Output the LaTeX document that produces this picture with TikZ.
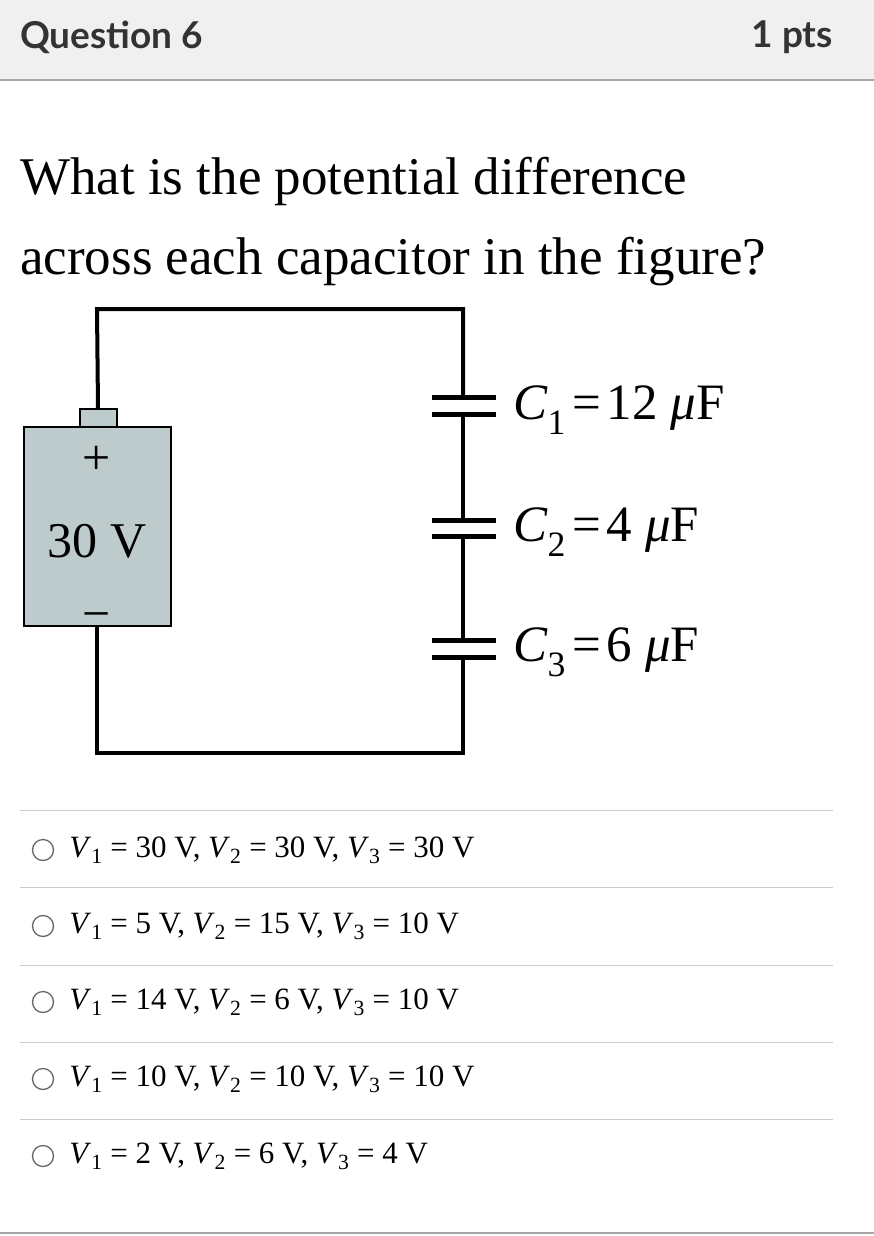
\documentclass[tikz,border=0pt]{standalone}
\usepackage{fontspec}
\setmainfont{Liberation Serif}
\newfontfamily\headfont{Lato}
\usetikzlibrary{positioning}
\definecolor{battfill}{RGB}{190,203,204}

\newcommand{\capsym}[2]{%
  \draw[plate] (432,#1) -- (496,#1);
  \draw[plate] (432,#2) -- (496,#2);}
\newcommand{\answer}[1]{\fontsize{31}{34}\selectfont #1}
\newcommand{\wideeq}{\hspace{0.12em}=\hspace{0.12em}}

\tikzset{
  wire/.style={line width=4pt},
  plate/.style={line width=5pt},
  sep/.style={draw=black!20, line width=1pt},
  choice/.style={circle, draw=black!60, line width=1.3pt, minimum size=21pt, inner sep=0pt},
  optlabel/.style={anchor=west, inner sep=0pt},
  caplabel/.style={anchor=west, inner sep=0pt, font=\fontsize{51}{54}\selectfont}
}

\begin{document}
\begin{tikzpicture}[x=1pt,y=-1pt]
  \useasboundingbox (0,0) rectangle (874,1236);

  % header
  \fill[black!6] (0,0) rectangle (874,80);
  \draw[black!35, line width=1.2pt] (0,80) -- (874,80);
  \node[anchor=west, inner sep=0pt, font=\headfont\bfseries\fontsize{37}{40}\selectfont, text=black!80] (qhead) at (20,37) {Question 6};
  \node[anchor=east, inner sep=0pt, font=\headfont\bfseries\fontsize{37}{40}\selectfont, text=black!80] (pts) at (833,37) {1 pts};

  % question
  \node[anchor=west, inner sep=0pt, font=\fontsize{53}{58}\selectfont] (q1) at (20,181) {What is the potential difference};
  \node[anchor=west, inner sep=0pt, font=\fontsize{53}{58}\selectfont] (q2) at (20,262) {across each capacitor in the figure?};

  % circuit
  \coordinate (tl) at (97,309);
  \coordinate (tr) at (463,309);
  \coordinate (bl) at (97,753);
  \coordinate (br) at (463,753);
  \node[draw, line width=2pt, fill=battfill, minimum width=37pt, minimum height=18pt, inner sep=0pt] (term) at (98,418) {};
  \node[draw, line width=2pt, fill=battfill, minimum width=147pt, minimum height=199pt, inner sep=0pt] (batt) at (97,526.5) {};
  \node[font=\fontsize{50}{54}\selectfont] (plus) at (97,460) {+};
  \node[font=\fontsize{50}{54}\selectfont] (volt) at (97,541) {30 V};
  \node[font=\fontsize{50}{54}\selectfont] (minus) at (97,622) {\textminus};

  \draw[wire] (term.north) -- (tl) -- (tr) -- (463,397);
  \draw[wire] (463,414) -- (463,520);
  \draw[wire] (463,536) -- (463,640);
  \draw[wire] (463,657) -- (br) -- (bl) -- (batt.south);
  \capsym{397}{414}
  \capsym{520}{536}
  \capsym{640}{657}

  \node[caplabel] (c1) at (513,410) {\textit{C}\textsubscript{1}\wideeq12 \textit{μ}F};
  \node[caplabel] (c2) at (513,532) {\textit{C}\textsubscript{2}\wideeq4 \textit{μ}F};
  \node[caplabel] (c3) at (513,652) {\textit{C}\textsubscript{3}\wideeq6 \textit{μ}F};

  % answer choices
  \foreach \y in {810,887,965,1042,1119}
    \draw[sep] (20,\y) -- (833,\y);
  \draw[black!35, line width=1.2pt] (0,1233) -- (874,1233);

  \node[choice] (o1) at (43,850) {};
  \node[choice] (o2) at (43,926) {};
  \node[choice] (o3) at (43,1002) {};
  \node[choice] (o4) at (43,1079) {};
  \node[choice] (o5) at (43,1156) {};

  \node[optlabel, right=15pt of o1] (a1) {\answer{\textit{V}\textsubscript{1} = 30 V, \textit{V}\textsubscript{2} = 30 V, \textit{V}\textsubscript{3} = 30 V}};
  \node[optlabel, right=15pt of o2] (a2) {\answer{\textit{V}\textsubscript{1} = 5 V, \textit{V}\textsubscript{2} = 15 V, \textit{V}\textsubscript{3} = 10 V}};
  \node[optlabel, right=15pt of o3] (a3) {\answer{\textit{V}\textsubscript{1} = 14 V, \textit{V}\textsubscript{2} = 6 V, \textit{V}\textsubscript{3} = 10 V}};
  \node[optlabel, right=15pt of o4] (a4) {\answer{\textit{V}\textsubscript{1} = 10 V, \textit{V}\textsubscript{2} = 10 V, \textit{V}\textsubscript{3} = 10 V}};
  \node[optlabel, right=15pt of o5] (a5) {\answer{\textit{V}\textsubscript{1} = 2 V, \textit{V}\textsubscript{2} = 6 V, \textit{V}\textsubscript{3} = 4 V}};
\end{tikzpicture}
\end{document}
